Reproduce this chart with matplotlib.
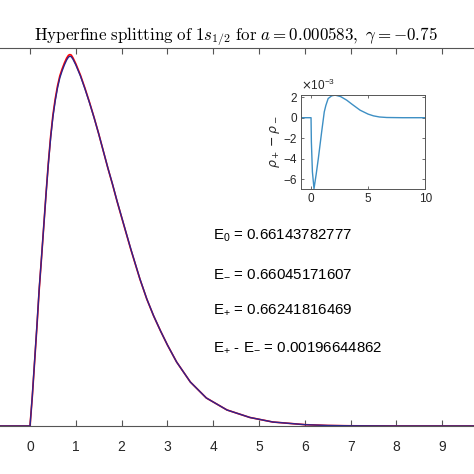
import matplotlib
matplotlib.use("Agg")
import matplotlib.pyplot as plt

plt.rcParams['font.family'] = ['Liberation Sans', 'DejaVu Sans']

# radial densities (peak ~0.587 on a 0..0.6 scale)
r = [-1.0, 0.0, 0.05, 0.10, 0.15, 0.20, 0.25, 0.30, 0.35, 0.40, 0.45, 0.50, 0.55,
     0.60, 0.65, 0.70, 0.75, 0.80, 0.84, 0.87, 0.90, 0.94, 1.0, 1.1, 1.2, 1.3, 1.4,
     1.5, 1.6, 1.7, 1.8, 1.9, 2.0, 2.1, 2.2, 2.3, 2.4, 2.55, 2.7, 2.85, 3.0, 3.2,
     3.5, 3.85, 4.3, 4.8, 5.3, 6.0, 6.5, 7.0, 8.0, 10.0]
rho_minus = [0, 0, 0.0476, 0.1032, 0.1587, 0.2175, 0.2667, 0.3175, 0.3683, 0.4159, 0.4571,
             0.4905, 0.5159, 0.5365, 0.5524, 0.5635, 0.5730, 0.5810, 0.5856, 0.5868, 0.5862,
             0.5818, 0.5730, 0.5556, 0.5349, 0.5127, 0.4889, 0.4635, 0.4365, 0.4095, 0.3841,
             0.3571, 0.3317, 0.3063, 0.2810, 0.2571, 0.2333, 0.2016, 0.1746, 0.1508, 0.1286,
             0.1016, 0.0698, 0.0444, 0.0254, 0.0135, 0.0063, 0.0021, 0.0008, 0.0003, 0, 0]
rho_plus = [0, 0, 0.0470, 0.1020, 0.1570, 0.2160, 0.2660, 0.3175, 0.3690, 0.4175, 0.4595,
            0.4935, 0.5190, 0.5395, 0.5555, 0.5665, 0.5760, 0.5840, 0.5884, 0.5895, 0.5887,
            0.5840, 0.5748, 0.5570, 0.5360, 0.5134, 0.4893, 0.4636, 0.4364, 0.4092, 0.3837,
            0.3566, 0.3311, 0.3057, 0.2804, 0.2566, 0.2329, 0.2013, 0.1744, 0.1507, 0.1285,
            0.1016, 0.0698, 0.0444, 0.0254, 0.0135, 0.0063, 0.0021, 0.0008, 0.0003, 0, 0]

# inset: rho_+ - rho_-, in units of 1e-3
r_diff = [-0.88, 0.0, 0.03, 0.12, 0.26, 0.45, 0.64, 0.93, 1.16, 1.3, 1.5, 1.8, 2.1, 2.6,
          3.13, 3.6, 4.3, 5.0, 5.47, 6.0, 6.64, 8.0, 10.0]
diff = [0, 0, -2.35, -5.26, -6.9, -5.5, -3.96, -1.38, 0.57, 1.2, 1.86, 2.12, 2.2, 2.05,
        1.7, 1.3, 0.73, 0.35, 0.18, 0.07, 0.02, 0, 0]

x_ticks = list(range(0, 10))
energies = [("E$_\\mathregular{0}$", "0.66143782777"),
            ("E$_\\mathregular{-}$", "0.66045171607"),
            ("E$_\\mathregular{+}$", "0.66241816469"),
            ("E$_\\mathregular{+}$ - E$_\\mathregular{-}$", "0.00196644862")]

fig = plt.figure(figsize=(4.74, 4.74), dpi=100)
ax = fig.add_axes([-0.0333, 0.1013, 1.063, 0.7975])
ax.plot(r, rho_plus, color='red', lw=1.2)
ax.plot(r, rho_minus, color='#2b2590', lw=1.0)
ax.set_xlim(-1, 10)
ax.set_ylim(0, 0.6)
ax.set_xticks(x_ticks)
ax.set_yticks([])
ax.tick_params(axis='x', direction='in', top=True, length=4, width=0.8,
               colors='#555555', labelcolor='#262626', labelsize=10, pad=10)
for s in ax.spines.values():
    s.set_color('#555555')
    s.set_linewidth(0.8)

ax.set_title(r"$\mathrm{Hyperfine\ splitting\ of\ }1s_{1/2}\mathrm{\ for\ }a = 0.000583,\ \gamma = -0.75$",
             fontsize=12.2, math_fontfamily='cm', pad=6)

ys = [0.297, 0.2365, 0.179, 0.119]
for (lab, val), y in zip(energies, ys):
    ax.text(4.0, y, lab + " = " + val, fontsize=10.8, va='baseline', ha='left', color='black')

ins = fig.add_axes([0.635, 0.601, 0.262, 0.198])
ins.plot(r_diff, diff, color='#3d8fc4', lw=1.0)
ins.set_xlim(-0.88, 10)
ins.set_ylim(-6.94, 2.18)
ins.set_xticks([0, 5, 10])
ins.set_yticks([-6, -4, -2, 0, 2])
ins.tick_params(direction='in', top=True, right=True, length=2.5, width=0.6,
                colors='#555555', labelcolor='#262626', labelsize=8.5, pad=3)
for s in ins.spines.values():
    s.set_color('#555555')
    s.set_linewidth(0.7)
ins.set_ylabel(r"$\rho_+ - \rho_-$", fontsize=9, color='#262626', labelpad=1)
ins.text(0.0, 1.02, r"$\times\mathregular{10^{-3}}$", transform=ins.transAxes,
         fontsize=8.5, color='#262626', va='bottom', ha='left')

fig.savefig("out.png", dpi=100)
